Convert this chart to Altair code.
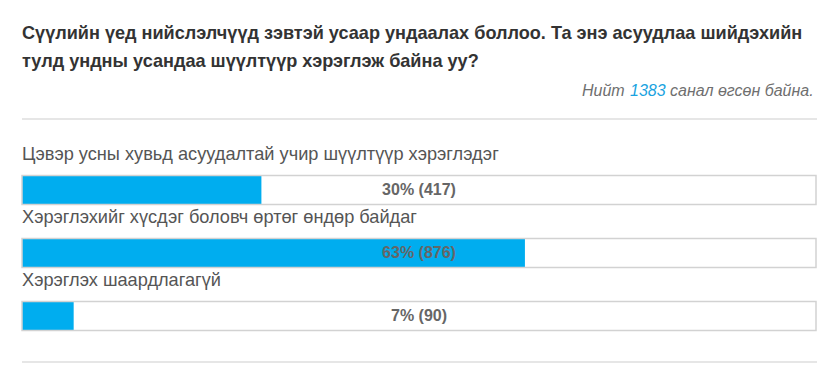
import altair as alt
import pandas as pd

# ---- data ----
title_lines = [
    "Сүүлийн үед нийслэлчүүд зэвтэй усаар ундаалах боллоо. Та энэ асуудлаа шийдэхийн",
    "тулд ундны усандаа шүүлтүүр хэрэглэж байна уу?",
]
total_votes = 1383
subtitle_parts = ["Нийт", str(total_votes), "санал өгсөн байна."]
options = [
    "Цэвэр усны хувьд асуудалтай учир шүүлтүүр хэрэглэдэг",
    "Хэрэглэхийг хүсдэг боловч өртөг өндөр байдаг",
    "Хэрэглэх шаардлагагүй",
]
votes = [417, 876, 90]

W, H = 809, 361
FONT = "Liberation Sans"
BLUE = "#00adef"

df = pd.DataFrame({
    "row": list(range(len(options))),
    "option": options,
    "votes": votes,
})
df["frac"] = df["votes"] / total_votes
df["start"] = 0.0
df["end"] = 1.0
df["mid"] = 0.5
df["pct"] = [f"{round(v / total_votes * 100 + 1e-9)}% ({v})" for v in votes]

xs = alt.Scale(domain=[0, 1], range=[14, 808])
ys = alt.Scale(domain=[0, 2], range=[177, 313])

base = alt.Chart(df)

bg = base.mark_bar(size=29, orient="horizontal", fill="white").encode(
    x=alt.X("start:Q", scale=xs, axis=None),
    x2="end:Q",
    y=alt.Y("row:Q", scale=ys, axis=None),
)
fill = base.mark_bar(size=29, orient="horizontal", fill=BLUE).encode(
    x=alt.X("start:Q", scale=xs, axis=None),
    x2="frac:Q",
    y=alt.Y("row:Q", scale=ys, axis=None),
)
border = base.mark_bar(size=29, orient="horizontal", fillOpacity=0,
                       stroke="#d2d2d2", strokeWidth=1.5).encode(
    x=alt.X("start:Q", scale=xs, axis=None),
    x2="end:Q",
    y=alt.Y("row:Q", scale=ys, axis=None),
)
opt_text = base.mark_text(align="left", baseline="middle", dy=-35,
                          font=FONT, fontSize=18.2, color="#555555").encode(
    x=alt.X("start:Q", scale=xs, axis=None),
    y=alt.Y("row:Q", scale=ys, axis=None),
    text="option:N",
)
pct_text = base.mark_text(align="center", baseline="middle", font=FONT,
                          fontSize=16, fontWeight="bold", color="#666666").encode(
    x=alt.X("mid:Q", scale=xs, axis=None),
    y=alt.Y("row:Q", scale=ys, axis=None),
    text="pct:N",
)

title_df = pd.DataFrame({"t": title_lines})
title1 = alt.Chart(title_df).transform_filter(alt.datum.t == title_lines[0]).mark_text(
    align="left", baseline="middle", font=FONT, fontSize=18.1, fontWeight="bold",
    color="#333333").encode(x=alt.value(14), y=alt.value(26), text="t:N")
title2 = alt.Chart(title_df).transform_filter(alt.datum.t == title_lines[1]).mark_text(
    align="left", baseline="middle", font=FONT, fontSize=18.1, fontWeight="bold",
    color="#333333").encode(x=alt.value(14), y=alt.value(54), text="t:N")

sub_df = pd.DataFrame({"t": subtitle_parts})
sub_x = [574, 622, 662]
sub_col = ["#6f6f6f", "#1aa3e0", "#6f6f6f"]
subs = []
for part, xv, col in zip(subtitle_parts, sub_x, sub_col):
    subs.append(
        alt.Chart(sub_df).transform_filter(alt.datum.t == part).mark_text(
            align="left", baseline="middle", font=FONT, fontSize=16,
            fontStyle="italic", color=col).encode(
            x=alt.value(xv), y=alt.value(83), text="t:N")
    )

rule_top = alt.Chart(sub_df).mark_rule(color="#e6e6e6", strokeWidth=1.5).encode(
    x=alt.value(14), x2=alt.value(W), y=alt.value(111))
rule_bot = alt.Chart(sub_df).mark_rule(color="#e6e6e6", strokeWidth=1.5).encode(
    x=alt.value(14), x2=alt.value(W), y=alt.value(354))

chart = alt.layer(
    rule_top, rule_bot, title1, title2, *subs, bg, fill, border, opt_text, pct_text
).properties(
    width=W, height=H, padding=0, autosize=alt.AutoSizeParams(type="none"),
    background="white",
).configure_view(stroke=None)

chart.save("out.html", embed_options={"renderer": "svg", "actions": False})
